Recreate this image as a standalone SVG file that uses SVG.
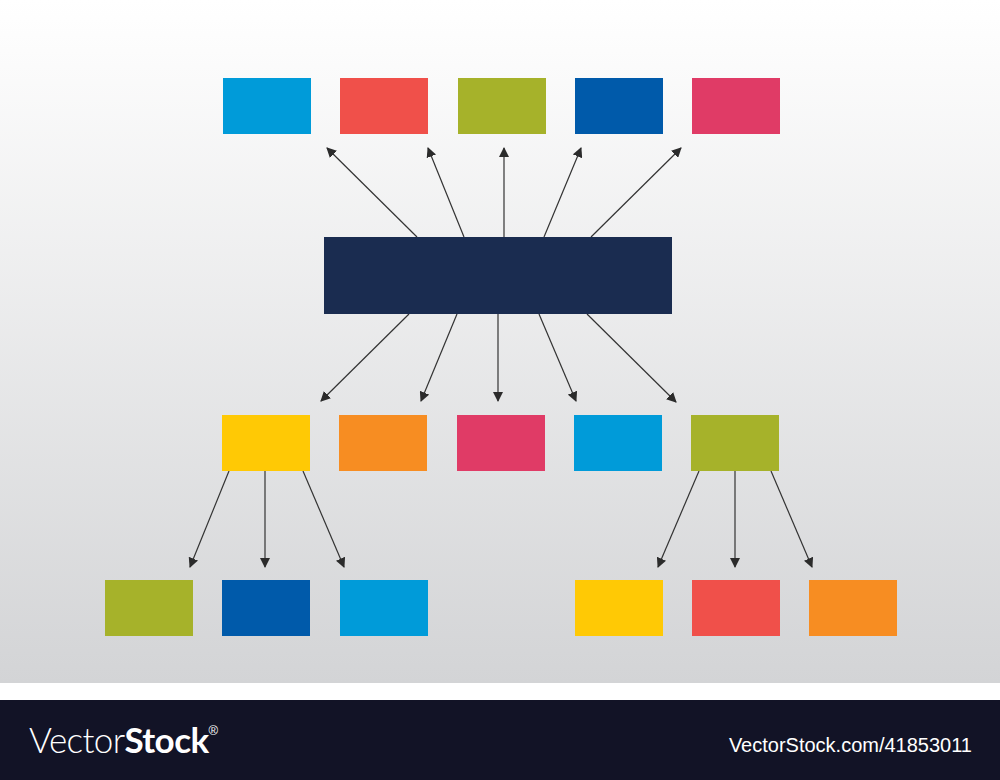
<svg xmlns="http://www.w3.org/2000/svg" width="1000" height="780" viewBox="0 0 1000 780">
<defs>
<linearGradient id="bg" x1="0" y1="0" x2="0" y2="1">
<stop offset="0" stop-color="#ffffff"/>
<stop offset="0.05" stop-color="#fdfdfd"/>
<stop offset="1" stop-color="#d3d4d6"/>
</linearGradient>
<marker id="ah" viewBox="0 0 10 10" refX="9" refY="5" markerWidth="10" markerHeight="10" markerUnits="userSpaceOnUse" orient="auto">
<path d="M0,0 L10,5 L0,10 Z" fill="#2b2b2b"/>
</marker>
</defs>
<style>
.c{stroke:#333333;stroke-width:1.2;fill:none;marker-end:url(#ah)}
.cyan{fill:#009bd9}.red{fill:#f0504a}.olive{fill:#a6b22a}.blue{fill:#005aaa}.pink{fill:#e03b66}.navy{fill:#1a2c50}.yellow{fill:#ffc905}.orange{fill:#f78d22}
.ft{font-family:"Liberation Sans","DejaVu Sans",sans-serif;fill:#ffffff}
</style>
<rect x="0" y="0" width="1000" height="683" fill="url(#bg)"/>
<rect x="0" y="683" width="1000" height="17" fill="#ffffff"/>
<rect x="0" y="700" width="1000" height="80" fill="#121326"/>

<g id="connectors">
<line class="c" x1="417" y1="237" x2="327" y2="148"/>
<line class="c" x1="464" y1="237" x2="428" y2="148"/>
<line class="c" x1="504" y1="237" x2="504" y2="148"/>
<line class="c" x1="544" y1="237" x2="581" y2="148"/>
<line class="c" x1="591" y1="237" x2="681" y2="148"/>
<line class="c" x1="409" y1="314" x2="321" y2="401"/>
<line class="c" x1="457" y1="314" x2="421" y2="401"/>
<line class="c" x1="498" y1="314" x2="498" y2="401"/>
<line class="c" x1="539" y1="314" x2="576" y2="401"/>
<line class="c" x1="587" y1="314" x2="676" y2="402"/>
<line class="c" x1="229" y1="471" x2="190" y2="567"/>
<line class="c" x1="265" y1="471" x2="265" y2="567"/>
<line class="c" x1="303" y1="471" x2="344" y2="567"/>
<line class="c" x1="699" y1="471" x2="658" y2="567"/>
<line class="c" x1="735" y1="471" x2="735" y2="567"/>
<line class="c" x1="771" y1="471" x2="812" y2="567"/>
</g>

<g id="top1"><rect class="cyan" x="223" y="78" width="88" height="56"/></g>
<g id="top2"><rect class="red" x="340" y="78" width="88" height="56"/></g>
<g id="top3"><rect class="olive" x="458" y="78" width="88" height="56"/></g>
<g id="top4"><rect class="blue" x="575" y="78" width="88" height="56"/></g>
<g id="top5"><rect class="pink" x="692" y="78" width="88" height="56"/></g>

<g id="center"><rect class="navy" x="324" y="237" width="348" height="77"/></g>

<g id="mid1"><rect class="yellow" x="222" y="415" width="88" height="56"/></g>
<g id="mid2"><rect class="orange" x="339" y="415" width="88" height="56"/></g>
<g id="mid3"><rect class="pink" x="457" y="415" width="88" height="56"/></g>
<g id="mid4"><rect class="cyan" x="574" y="415" width="88" height="56"/></g>
<g id="mid5"><rect class="olive" x="691" y="415" width="88" height="56"/></g>

<g id="bot1"><rect class="olive" x="105" y="580" width="88" height="56"/></g>
<g id="bot2"><rect class="blue" x="222" y="580" width="88" height="56"/></g>
<g id="bot3"><rect class="cyan" x="340" y="580" width="88" height="56"/></g>
<g id="bot4"><rect class="yellow" x="575" y="580" width="88" height="56"/></g>
<g id="bot5"><rect class="red" x="692" y="580" width="88" height="56"/></g>
<g id="bot6"><rect class="orange" x="809" y="580" width="88" height="56"/></g>

<g id="footer">
<text class="ft" x="29" y="753" font-size="35" letter-spacing="-0.6"><tspan font-weight="300" font-family="Lato, 'Liberation Sans', sans-serif">Vector</tspan><tspan font-weight="bold" font-family="Lato, 'Liberation Sans', sans-serif">Stock</tspan><tspan font-size="13" dy="-18">®</tspan></text>
<text class="ft" x="972" y="752" font-size="20" text-anchor="end">VectorStock.com/41853011</text>
</g>
</svg>
